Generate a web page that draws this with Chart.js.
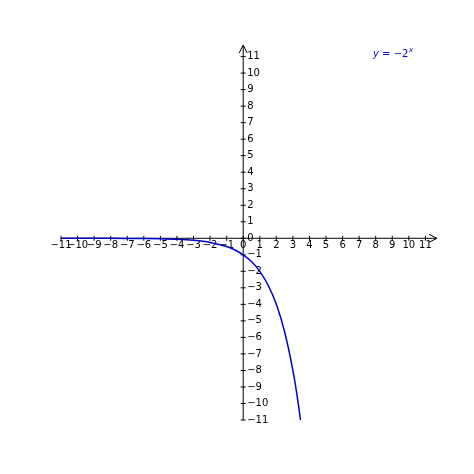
<!DOCTYPE html>
<html>
<head>
<meta charset="utf-8">
<script src="https://cdn.jsdelivr.net/npm/chart.js@4"></script>
<style>
  html, body { margin: 0; padding: 0; background: #fff; }
  #wrap { width: 474px; height: 474px; }
</style>
</head>
<body>
<div id="wrap"><canvas id="chart"></canvas></div>
<script>
const xValues = [-11, -10, -9, -8, -7, -6, -5, -4, -3, -2, -1, -0.5, 0, 0.5, 1, 1.5, 2, 2.5, 3, 3.25, 3.46];
const yValues = [-0.0005, -0.001, -0.002, -0.004, -0.008, -0.016, -0.031, -0.0625, -0.125, -0.25, -0.5, -0.71, -1, -1.41, -2, -2.83, -4, -5.66, -8, -9.51, -11];
const xTicks = [-11, -10, -9, -8, -7, -6, -5, -4, -3, -2, -1, 0, 1, 2, 3, 4, 5, 6, 7, 8, 9, 10, 11];
const yTicks = [-11, -10, -9, -8, -7, -6, -5, -4, -3, -2, -1, 0, 1, 2, 3, 4, 5, 6, 7, 8, 9, 10, 11];
const curveLabel = 'y = −2^x';

const points = xValues.map((x, i) => ({ x: x, y: yValues[i] }));
const FONT = '10px "DejaVu Sans"';

function minus(v) {
    return v < 0 ? '\u2212' + Math.abs(v) : String(v);
}

const axesPlugin = {
    id: 'centerAxes',
    beforeDatasetsDraw(chart) {
        const ctx = chart.ctx;
        const xs = chart.scales.x, ys = chart.scales.y;
        const x0 = xs.getPixelForValue(0), y0 = ys.getPixelForValue(0);
        const left = xs.getPixelForValue(xs.min), right = xs.getPixelForValue(xs.max);
        const top = ys.getPixelForValue(ys.max), bottom = ys.getPixelForValue(ys.min);
        ctx.save();
        ctx.strokeStyle = '#000';
        ctx.lineWidth = 1;
        ctx.beginPath();
        ctx.moveTo(left, y0); ctx.lineTo(right, y0);
        ctx.moveTo(x0, bottom); ctx.lineTo(x0, top);
        // arrow heads
        ctx.moveTo(right - 8, y0 - 4); ctx.lineTo(right, y0); ctx.lineTo(right - 8, y0 + 4);
        ctx.moveTo(x0 - 4, top + 8); ctx.lineTo(x0, top); ctx.lineTo(x0 + 4, top + 8);
        // ticks
        xTicks.forEach(v => {
            const px = xs.getPixelForValue(v);
            ctx.moveTo(px, y0 - 2.5); ctx.lineTo(px, y0 + 2.5);
        });
        yTicks.forEach(v => {
            const py = ys.getPixelForValue(v);
            ctx.moveTo(x0 - 2.5, py); ctx.lineTo(x0 + 2.5, py);
        });
        ctx.stroke();

        ctx.fillStyle = '#000';
        ctx.font = FONT;
        ctx.textAlign = 'center';
        ctx.textBaseline = 'top';
        xTicks.forEach(v => {
            ctx.fillText(minus(v), xs.getPixelForValue(v), y0 + 2);
        });
        ctx.textAlign = 'left';
        ctx.textBaseline = 'middle';
        yTicks.forEach(v => {
            ctx.fillText(minus(v), x0 + 4, ys.getPixelForValue(v));
        });

        // curve label
        ctx.fillStyle = '#0000cc';
        ctx.textBaseline = 'alphabetic';
        const parts = curveLabel.split('^');
        ctx.font = 'italic 10px "DejaVu Sans"';
        let tx = 373;
        ctx.fillText('y', tx, 57);
        tx += ctx.measureText('y').width;
        ctx.font = FONT;
        const mid = parts[0].slice(1);
        ctx.fillText(mid, tx, 57);
        tx += ctx.measureText(mid).width;
        ctx.font = 'italic 7px "DejaVu Sans"';
        ctx.fillText(parts[1], tx + 0.5, 52);
        ctx.restore();
    }
};

new Chart(document.getElementById('chart'), {
    type: 'scatter',
    data: {
        datasets: [{
            label: curveLabel,
            data: points,
            showLine: true,
            borderColor: '#0000cc',
            borderWidth: 1.5,
            pointRadius: 0,
            cubicInterpolationMode: 'monotone',
            fill: false
        }]
    },
    options: {
        responsive: true,
        maintainAspectRatio: false,
        animation: false,
        events: [],
        layout: { padding: { left: 61, right: 37, top: 45, bottom: 54 } },
        plugins: { legend: { display: false }, tooltip: { enabled: false } },
        scales: {
            x: { type: 'linear', min: -11, max: 11.7, display: false },
            y: { type: 'linear', min: -11, max: 11.7, display: false }
        }
    },
    plugins: [axesPlugin]
});
</script>
</body>
</html>
